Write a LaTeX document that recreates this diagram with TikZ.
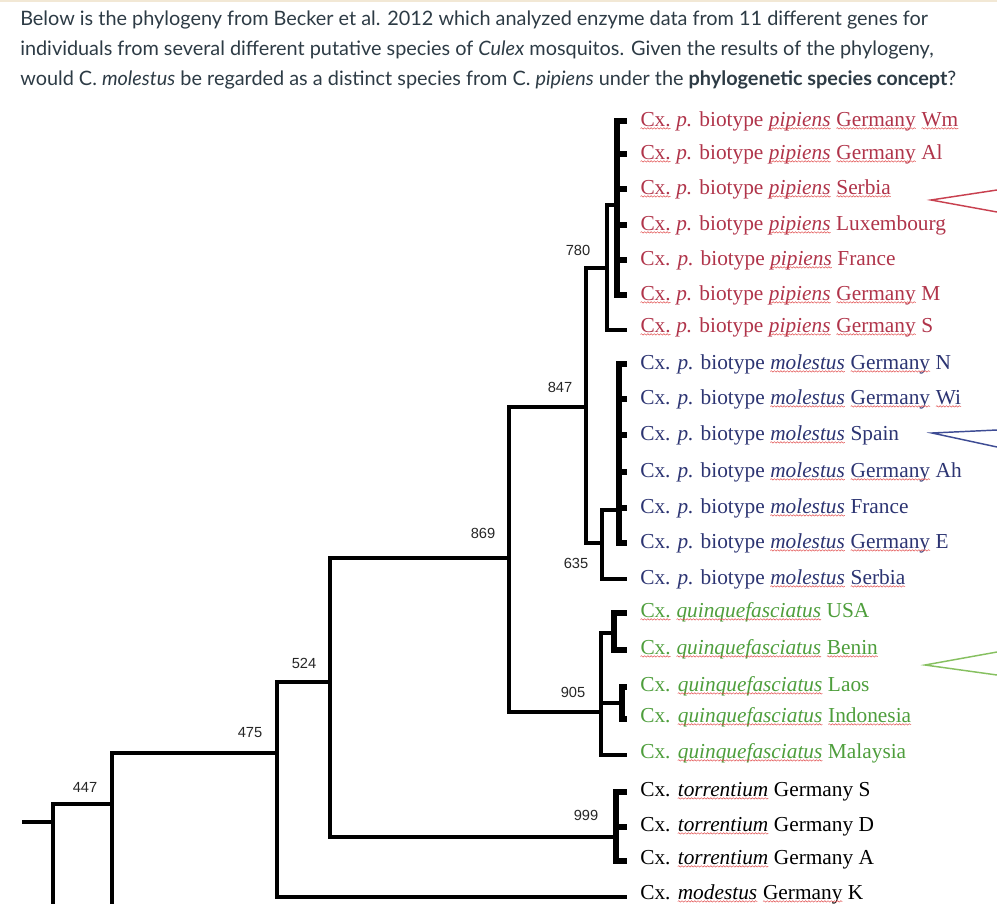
\documentclass[tikz,border=0pt]{standalone}
\usepackage{fontspec}
\setmainfont{Lato}
\newfontfamily\leaffont{Liberation Serif}
\newfontfamily\numfont{Liberation Sans}
\usetikzlibrary{decorations.pathmorphing}
\definecolor{pipcol}{HTML}{B0344A}
\definecolor{molcol}{HTML}{2C3472}
\definecolor{quicol}{HTML}{4E9E3C}
\definecolor{wavecol}{HTML}{E04848}
\definecolor{arrred}{HTML}{C8404F}
\definecolor{arrblue}{HTML}{3E4C94}
\definecolor{arrgreen}{HTML}{86C060}
\definecolor{topline}{HTML}{F2E8D5}
\definecolor{textgray}{HTML}{2D3B45}
\newcommand\wv[1]{\tikz[baseline=(w.base)]{\node[inner sep=0pt,outer sep=0pt,anchor=base](w){#1};\draw[wavecol,line width=0.35pt,decorate,decoration={snake,amplitude=0.55pt,segment length=2.4pt}]([yshift=-1.8pt]w.base west)--([yshift=-1.8pt]w.base east);}}
\tikzset{
  toptext/.style={anchor=base west,inner sep=0pt,text=textgray,font=\fontsize{14.9}{17}\selectfont},
  leaf/.style={anchor=base west,inner sep=0pt,font=\leaffont\fontsize{16}{18}\selectfont},
  blabel/.style={inner sep=0pt,text=black!85,font=\numfont\fontsize{11}{13}\selectfont},
  branch/.style={line width=3pt,black},
  bracket/.style={line width=4.3pt,black},
  pointer/.style={line width=1.1pt}
}
\begin{document}
\begin{tikzpicture}[x=0.75pt,y=-0.75pt]
\useasboundingbox (0,0) rectangle (997,904);
\draw[topline,line width=1.5pt] (0,1) -- (997,1);
% question text
\node[toptext] (t1) at (20,25) {Below is the phylogeny from Becker et al. 2012 which analyzed enzyme data from 11 different genes for};
\node[toptext] (t2) at (20,55) {individuals from several different putative species of \textit{Culex} mosquitos. Given the results of the phylogeny,};
\node[toptext] (t3) at (20,85) {would C. \textit{molestus} be regarded as a distinct species from C. \textit{pipiens} under the \textbf{phylogenetic species concept}?};
% leaf tips
\foreach \i/\y in {1/121,2/154,3/189,4/225,5/260,6/295,7/330,8/364,9/399,10/435,11/472,12/508,13/543,14/579,15/613,16/650,17/687,18/719,19/755,20/792,21/827,22/861,23/897}
  \coordinate (lf\i) at (627,\y);
% internal nodes
\coordinate (bP) at (617,205);
\coordinate (nP) at (607,268);
\coordinate (n847) at (586,407);
\coordinate (bM) at (619,510);
\coordinate (n635) at (602,543);
\coordinate (bQa) at (614,633);
\coordinate (bQb) at (622,703);
\coordinate (n905) at (601,712);
\coordinate (n869) at (509,558);
\coordinate (bT) at (616,837);
\coordinate (n524) at (330,682);
\coordinate (n475) at (277,753);
\coordinate (nA) at (112,804);
\coordinate (n447) at (53,822);
\coordinate (root) at (22,822);
\coordinate (offA) at (112,910);
\coordinate (offB) at (53,910);
% brackets
\foreach \i in {1,...,6} \draw[bracket] (bP) |- (lf\i);
\foreach \i in {8,...,13} \draw[bracket] (bM) |- (lf\i);
\foreach \i in {15,16} \draw[bracket] (bQa) |- (lf\i);
\foreach \i in {17,18} \draw[bracket] (bQb) |- (lf\i);
\foreach \i in {20,21,22} \draw[bracket] (bT) |- (lf\i);
% branches
\draw[branch] (nP) |- (bP);
\draw[branch] (nP) |- (lf7);
\draw[branch] (n635) |- (bM);
\draw[branch] (n635) |- (lf14);
\draw[branch] (n847) |- (nP);
\draw[branch] (n847) |- (n635);
\draw[branch] (n905) |- (bQa);
\draw[branch] (n905) |- (bQb);
\draw[branch] (n905) |- (lf19);
\draw[branch] (n869) |- (n847);
\draw[branch] (n869) |- (n905);
\draw[branch] (n524) |- (n869);
\draw[branch] (n524) |- (bT);
\draw[branch] (n475) |- (n524);
\draw[branch] (n475) |- (lf23);
\draw[branch] (nA) |- (n475);
\draw[branch] (nA) -- (offA);
\draw[branch] (n447) |- (nA);
\draw[branch] (n447) -- (offB);
\draw[branch] (root) -- (n447);
% bootstrap labels
\node[blabel] (l780) at (578,250) {780};
\node[blabel] (l847) at (560,387) {847};
\node[blabel] (l635) at (576,563) {635};
\node[blabel] (l869) at (483,533) {869};
\node[blabel] (l905) at (573,692) {905};
\node[blabel] (l999) at (586,815) {999};
\node[blabel] (l524) at (304,663) {524};
\node[blabel] (l475) at (250,733) {475};
\node[blabel] (l447) at (85,787) {447};
% leaf labels
\begin{scope}[every node/.append style={text=pipcol}]
\node[leaf] (t01) at (640,126) {\wv{Cx.} \textit{p.} biotype \wv{\textit{pipiens}} \wv{Germany} \wv{Wm}};
\node[leaf] (t02) at (640,159) {\wv{Cx.} \textit{p.} biotype \wv{\textit{pipiens}} \wv{Germany} Al};
\node[leaf] (t03) at (640,194) {\wv{Cx.} \textit{p.} biotype \wv{\textit{pipiens}} \wv{Serbia}};
\node[leaf] (t04) at (640,230) {\wv{Cx.} \textit{p.} biotype \wv{\textit{pipiens}} Luxembourg};
\node[leaf] (t05) at (640,265) {Cx. \textit{p.} biotype \wv{\textit{pipiens}} France};
\node[leaf] (t06) at (640,300) {\wv{Cx.} \textit{p.} biotype \wv{\textit{pipiens}} \wv{Germany} M};
\node[leaf] (t07) at (640,332) {\wv{Cx.} \textit{p.} biotype \wv{\textit{pipiens}} \wv{Germany} S};
\end{scope}
\begin{scope}[every node/.append style={text=molcol}]
\node[leaf] (t08) at (640,369) {Cx. \textit{p.} biotype \wv{\textit{molestus}} \wv{Germany} N};
\node[leaf] (t09) at (640,404) {Cx. \textit{p.} biotype \wv{\textit{molestus}} \wv{Germany} \wv{Wi}};
\node[leaf] (t10) at (640,440) {Cx. \textit{p.} biotype \wv{\textit{molestus}} Spain};
\node[leaf] (t11) at (640,477) {Cx. \textit{p.} biotype \wv{\textit{molestus}} \wv{Germany} Ah};
\node[leaf] (t12) at (640,513) {Cx. \textit{p.} biotype \wv{\textit{molestus}} France};
\node[leaf] (t13) at (640,548) {Cx. \textit{p.} biotype \wv{\textit{molestus}} \wv{Germany} E};
\node[leaf] (t14) at (640,584) {Cx. \textit{p.} biotype \wv{\textit{molestus}} \wv{Serbia}};
\end{scope}
\begin{scope}[every node/.append style={text=quicol}]
\node[leaf] (t15) at (640,617) {\wv{Cx.} \wv{\textit{quinquefasciatus}} USA};
\node[leaf] (t16) at (640,654) {\wv{Cx.} \wv{\textit{quinquefasciatus}} \wv{Benin}};
\node[leaf] (t17) at (640,691) {Cx. \wv{\textit{quinquefasciatus}} Laos};
\node[leaf] (t18) at (640,722) {Cx. \wv{\textit{quinquefasciatus}} \wv{Indonesia}};
\node[leaf] (t19) at (640,758) {Cx. \wv{\textit{quinquefasciatus}} Malaysia};
\end{scope}
\node[leaf] (t20) at (640,796) {Cx. \wv{\textit{torrentium}} Germany S};
\node[leaf] (t21) at (640,831) {Cx. \wv{\textit{torrentium}} Germany D};
\node[leaf] (t22) at (640,864) {Cx. \wv{\textit{torrentium}} Germany A};
\node[leaf] (t23) at (640,899) {Cx. \wv{\textit{modestus}} \wv{Germany} K};
% pointers
\coordinate (rA) at (997,190); \coordinate (rT) at (931,200); \coordinate (rB) at (997,212);
\coordinate (uA) at (997,430); \coordinate (uT) at (932,433); \coordinate (uB) at (997,447);
\coordinate (gA) at (997,652); \coordinate (gT) at (925,665); \coordinate (gB) at (997,675);
\draw[pointer,arrred] (rA) -- (rT) -- (rB);
\draw[pointer,arrblue] (uA) -- (uT) -- (uB);
\draw[pointer,arrgreen] (gA) -- (gT) -- (gB);
\end{tikzpicture}
\end{document}
